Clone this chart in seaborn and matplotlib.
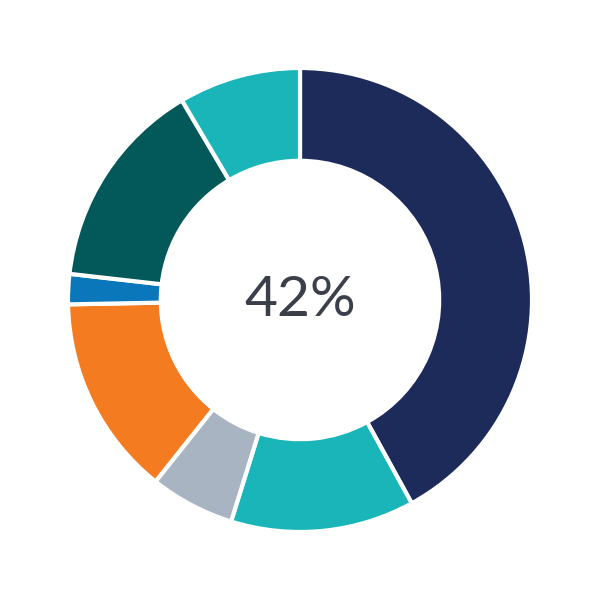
import matplotlib
matplotlib.use("Agg")
import matplotlib.pyplot as plt
import seaborn as sns

# segment shares, clockwise from 12 o'clock
shares = [42, 12.8, 5.9, 14, 2.1, 14.7, 8.5]
colors = ["#1c2b5a", "#1ab5b8", "#a9b4c2", "#f47b20", "#0a77bb", "#03585a", "#1ab5b8"]
center_label = "42%"

sns.set_theme(style="white")

fig = plt.figure(figsize=(6, 6), dpi=100)
ax = fig.add_axes([0, 0, 1, 1])
ax.pie(shares, colors=colors, startangle=90, counterclock=False,
       radius=1.0,
       wedgeprops=dict(width=0.4, edgecolor="white", linewidth=3))
lim = 300 / 232
ax.set_xlim(-lim, lim)
ax.set_ylim(-lim, lim)
ax.set_aspect("equal")
ax.axis("off")
ax.text(0, 0, center_label, ha="center", va="center", fontsize=41,
        color="#3a3f4a", family=["Lato", "DejaVu Sans"], fontweight="normal")

fig.savefig("out.png", dpi=100, facecolor="white")
